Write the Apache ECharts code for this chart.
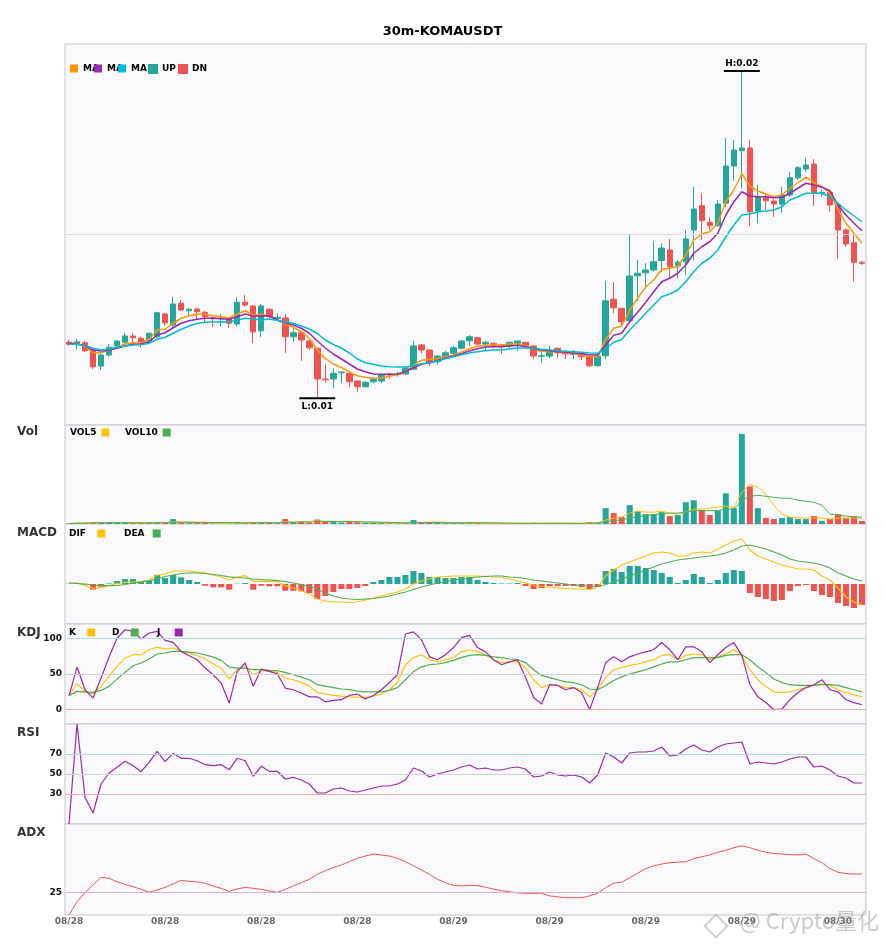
<!DOCTYPE html>
<html lang="en">
<head>
<meta charset="UTF-8">
<title>30m-KOMAUSDT</title>
<style>
  html, body { margin: 0; padding: 0; background: #fff; }
  #main { width: 885px; height: 950px; }
</style>
</head>
<body>
<div id="main"></div>
<script src="https://cdn.jsdelivr.net/npm/echarts@6/dist/echarts.min.js"></script>
<script>
// 30m candles, 08/28 00:00 -> 08/30 01:30
const times = [
  '08/28 00:00','08/28 00:30','08/28 01:00','08/28 01:30','08/28 02:00','08/28 02:30','08/28 03:00','08/28 03:30','08/28 04:00','08/28 04:30',
  '08/28 05:00','08/28 05:30','08/28 06:00','08/28 06:30','08/28 07:00','08/28 07:30','08/28 08:00','08/28 08:30','08/28 09:00','08/28 09:30',
  '08/28 10:00','08/28 10:30','08/28 11:00','08/28 11:30','08/28 12:00','08/28 12:30','08/28 13:00','08/28 13:30','08/28 14:00','08/28 14:30',
  '08/28 15:00','08/28 15:30','08/28 16:00','08/28 16:30','08/28 17:00','08/28 17:30','08/28 18:00','08/28 18:30','08/28 19:00','08/28 19:30',
  '08/28 20:00','08/28 20:30','08/28 21:00','08/28 21:30','08/28 22:00','08/28 22:30','08/28 23:00','08/28 23:30',
  '08/29 00:00','08/29 00:30','08/29 01:00','08/29 01:30','08/29 02:00','08/29 02:30','08/29 03:00','08/29 03:30','08/29 04:00','08/29 04:30',
  '08/29 05:00','08/29 05:30','08/29 06:00','08/29 06:30','08/29 07:00','08/29 07:30','08/29 08:00','08/29 08:30','08/29 09:00','08/29 09:30',
  '08/29 10:00','08/29 10:30','08/29 11:00','08/29 11:30','08/29 12:00','08/29 12:30','08/29 13:00','08/29 13:30','08/29 14:00','08/29 14:30',
  '08/29 15:00','08/29 15:30','08/29 16:00','08/29 16:30','08/29 17:00','08/29 17:30','08/29 18:00','08/29 18:30','08/29 19:00','08/29 19:30',
  '08/29 20:00','08/29 20:30','08/29 21:00','08/29 21:30','08/29 22:00','08/29 22:30','08/29 23:00','08/29 23:30',
  '08/30 00:00','08/30 00:30','08/30 01:00','08/30 01:30'
];

const opens = [
  0.01181,0.01175,0.01179,0.01150,0.01086,0.01130,0.01166,0.01181,0.01206,0.01197,
  0.01187,0.01203,0.01294,0.01250,0.01337,0.01307,0.01314,0.01301,0.01279,0.01275,
  0.01274,0.01254,0.01341,0.01326,0.01227,0.01313,0.01276,0.01278,0.01203,0.01219,
  0.01186,0.01157,0.01034,0.01034,0.01059,0.01057,0.01026,0.01003,0.01023,0.01026,
  0.01054,0.01052,0.01054,0.01073,0.01170,0.01150,0.01103,0.01121,0.01137,0.01157,
  0.01187,0.01199,0.01174,0.01177,0.01170,0.01166,0.01177,0.01181,0.01166,0.01125,
  0.01126,0.01157,0.01139,0.01132,0.01137,0.01123,0.01087,0.01127,0.01353,0.01317,
  0.01267,0.01447,0.01459,0.01470,0.01508,0.01550,0.01487,0.01503,0.01630,0.01727,
  0.01661,0.01647,0.01737,0.01886,0.01947,0.01958,0.01707,0.01759,0.01746,0.01734,
  0.01770,0.01839,0.01874,0.01894,0.01777,0.01781,0.01730,0.01630,0.01579,0.01501
];
const closes = [
  0.01173,0.01183,0.01147,0.01083,0.01130,0.01161,0.01186,0.01206,0.01199,0.01181,
  0.01217,0.01299,0.01259,0.01334,0.01310,0.01313,0.01303,0.01283,0.01275,0.01278,
  0.01257,0.01341,0.01330,0.01223,0.01326,0.01283,0.01281,0.01203,0.01219,0.01190,
  0.01159,0.01034,0.01031,0.01057,0.01062,0.01023,0.01003,0.01021,0.01033,0.01050,
  0.01050,0.01054,0.01077,0.01166,0.01150,0.01099,0.01126,0.01139,0.01159,0.01186,
  0.01203,0.01174,0.01181,0.01166,0.01163,0.01181,0.01186,0.01163,0.01126,0.01127,
  0.01150,0.01139,0.01134,0.01136,0.01123,0.01087,0.01126,0.01347,0.01319,0.01263,
  0.01446,0.01457,0.01470,0.01503,0.01558,0.01483,0.01501,0.01594,0.01714,0.01667,
  0.01647,0.01734,0.01886,0.01950,0.01958,0.01703,0.01763,0.01747,0.01734,0.01770,
  0.01839,0.01879,0.01890,0.01779,0.01781,0.01730,0.01630,0.01574,0.01501,0.01497
];
const lows = [
  0.01166,0.01153,0.01142,0.01073,0.01070,0.01123,0.01163,0.01174,0.01179,0.01159,
  0.01177,0.01197,0.01246,0.01243,0.01306,0.01283,0.01270,0.01263,0.01243,0.01243,
  0.01237,0.01243,0.01323,0.01177,0.01202,0.01277,0.01268,0.01138,0.01183,0.01107,
  0.01150,0.00957,0.01019,0.00997,0.01017,0.01001,0.00983,0.01001,0.01017,0.01017,
  0.01033,0.01043,0.01050,0.01070,0.01137,0.01086,0.01090,0.01117,0.01134,0.01153,
  0.01166,0.01163,0.01150,0.01157,0.01134,0.01157,0.01147,0.01161,0.01113,0.01099,
  0.01117,0.01117,0.01113,0.01113,0.01110,0.01083,0.01083,0.01113,0.01297,0.01250,
  0.01263,0.01346,0.01397,0.01463,0.01462,0.01438,0.01437,0.01450,0.01510,0.01590,
  0.01630,0.01643,0.01722,0.01826,0.01797,0.01646,0.01657,0.01710,0.01683,0.01699,
  0.01763,0.01830,0.01863,0.01727,0.01763,0.01703,0.01514,0.01563,0.01423,0.01490
];
const highs = [
  0.01190,0.01194,0.01187,0.01153,0.01137,0.01173,0.01190,0.01219,0.01217,0.01203,
  0.01219,0.01303,0.01299,0.01363,0.01350,0.01317,0.01317,0.01307,0.01283,0.01294,
  0.01281,0.01361,0.01370,0.01330,0.01334,0.01317,0.01296,0.01294,0.01243,0.01222,
  0.01190,0.01159,0.01094,0.01077,0.01063,0.01063,0.01028,0.01026,0.01041,0.01057,
  0.01059,0.01063,0.01083,0.01187,0.01174,0.01152,0.01130,0.01147,0.01166,0.01190,
  0.01210,0.01203,0.01186,0.01179,0.01174,0.01183,0.01187,0.01182,0.01170,0.01143,
  0.01166,0.01159,0.01150,0.01150,0.01139,0.01126,0.01128,0.01426,0.01422,0.01319,
  0.01610,0.01510,0.01497,0.01586,0.01577,0.01594,0.01510,0.01630,0.01803,0.01777,
  0.01681,0.01750,0.01997,0.01990,0.02266,0.01990,0.01810,0.01777,0.01753,0.01803,
  0.01863,0.01886,0.01919,0.01913,0.01793,0.01787,0.01734,0.01637,0.01617,0.01507
];

const ma5 = [
  0.01177,0.01177,0.01163,0.01139,0.01139,0.01150,0.01161,0.01174,0.01179,0.01179,
  0.01193,0.01230,0.01233,0.01257,0.01277,0.01287,0.01293,0.01293,0.01287,0.01283,
  0.01278,0.01294,0.01307,0.01290,0.01293,0.01286,0.01270,0.01254,0.01241,0.01223,
  0.01197,0.01150,0.01116,0.01094,0.01080,0.01062,0.01047,0.01041,0.01037,0.01038,
  0.01045,0.01051,0.01061,0.01089,0.01109,0.01113,0.01115,0.01123,0.01130,0.01142,
  0.01155,0.01165,0.01169,0.01170,0.01170,0.01174,0.01174,0.01167,0.01153,0.01145,
  0.01143,0.01142,0.01139,0.01135,0.01130,0.01123,0.01123,0.01192,0.01237,0.01246,
  0.01308,0.01358,0.01402,0.01430,0.01472,0.01477,0.01483,0.01530,0.01590,0.01614,
  0.01623,0.01657,0.01743,0.01790,0.01855,0.01806,0.01786,0.01774,0.01763,0.01770,
  0.01797,0.01819,0.01841,0.01819,0.01803,0.01777,0.01713,0.01657,0.01617,0.01577
];
const ma10 = [
  0.01177,0.01174,0.01166,0.01150,0.01146,0.01150,0.01157,0.01166,0.01173,0.01174,
  0.01183,0.01210,0.01219,0.01239,0.01257,0.01267,0.01273,0.01277,0.01277,0.01275,
  0.01273,0.01283,0.01294,0.01286,0.01286,0.01287,0.01270,0.01259,0.01250,0.01237,
  0.01217,0.01186,0.01158,0.01134,0.01114,0.01094,0.01074,0.01063,0.01054,0.01053,
  0.01053,0.01054,0.01063,0.01079,0.01093,0.01099,0.01107,0.01118,0.01126,0.01135,
  0.01146,0.01155,0.01162,0.01163,0.01163,0.01166,0.01169,0.01163,0.01155,0.01150,
  0.01147,0.01143,0.01141,0.01138,0.01135,0.01130,0.01130,0.01170,0.01209,0.01217,
  0.01263,0.01301,0.01341,0.01383,0.01423,0.01437,0.01457,0.01490,0.01537,0.01563,
  0.01583,0.01617,0.01690,0.01743,0.01783,0.01766,0.01763,0.01763,0.01759,0.01761,
  0.01777,0.01797,0.01817,0.01810,0.01801,0.01787,0.01730,0.01690,0.01657,0.01627
];
const ma20 = [
  0.01173,0.01173,0.01167,0.01157,0.01150,0.01154,0.01161,0.01166,0.01170,0.01171,
  0.01177,0.01193,0.01201,0.01217,0.01233,0.01246,0.01257,0.01261,0.01262,0.01263,
  0.01262,0.01270,0.01277,0.01274,0.01270,0.01274,0.01268,0.01262,0.01257,0.01246,
  0.01234,0.01216,0.01190,0.01172,0.01158,0.01138,0.01114,0.01099,0.01093,0.01086,
  0.01083,0.01082,0.01082,0.01086,0.01095,0.01099,0.01106,0.01115,0.01123,0.01131,
  0.01138,0.01143,0.01147,0.01150,0.01150,0.01154,0.01158,0.01158,0.01157,0.01153,
  0.01150,0.01147,0.01145,0.01143,0.01141,0.01138,0.01137,0.01155,0.01181,0.01192,
  0.01230,0.01263,0.01297,0.01330,0.01363,0.01374,0.01390,0.01423,0.01463,0.01497,
  0.01517,0.01550,0.01603,0.01650,0.01690,0.01694,0.01703,0.01706,0.01710,0.01723,
  0.01750,0.01763,0.01777,0.01777,0.01777,0.01763,0.01737,0.01710,0.01686,0.01663
];

// volume in millions
const volumes = [
  0.5,1.2,1,2,1.5,1.8,1,1.2,0.8,1,
  1.2,2,1.3,5,1.5,0.8,0.8,1,0.6,0.7,
  0.8,2,1,2,1.5,1,0.8,5,1.8,3,
  1.5,4.5,3,2.5,1.5,2,1.8,1.2,1,1,
  0.8,0.8,1,4,1.5,1.8,1,0.8,0.8,1.2,
  1.5,1,0.7,0.6,0.8,0.6,0.7,0.5,1.2,0.7,
  0.8,0.6,0.5,0.5,0.6,2,1.5,16,11,7,
  19,13,10,10,12,8,9,22,24,14,
  9,14,31,16,91,38,16,6,5,6,
  7,5,5,8,3,5,10,6,8,3
];
const vol5 = [
  0.5,0.8,0.9,1.2,1.3,1.5,1.5,1.5,1.3,1.1,
  1,1.2,1.3,2.1,2.2,2.1,1.9,1.8,1,0.8,
  0.8,1,1,1.3,1.5,1.7,1.5,2.1,2,2.3,
  2.6,3.2,2.8,2.8,2.6,2.7,2.2,1.8,1.5,1.4,
  1.2,1,0.9,1.5,1.6,1.8,1.9,1.8,1.2,1.1,
  1.1,1.1,1,1,0.9,0.7,0.7,0.6,0.8,0.7,
  0.8,0.8,0.8,0.7,0.6,0.9,1,4,6,7,
  11,13,12,12,13,11,10,12,15,15,
  16,17,18,17,32,40,37,30,19,10,
  7,6,6,6,6,5,6,6,6,6
];
const vol10 = [
  0.5,0.8,0.9,1.2,1.3,1.4,1.4,1.4,1.3,1.3,
  1.3,1.3,1.4,1.8,1.8,1.7,1.6,1.6,1.5,1.5,
  1.4,1.3,1.3,1.4,1.3,1.3,1.3,1.7,1.7,2,
  2,2.4,2.5,2.5,2.4,2.5,2.4,2.1,2,1.8,
  1.6,1.4,1.3,1.5,1.5,1.5,1.5,1.3,1.3,1.3,
  1.4,1.4,1.3,1.2,1,0.9,0.8,0.7,0.8,0.7,
  0.8,0.8,0.7,0.7,0.7,0.8,0.9,2.5,3.5,4,
  6,7.5,8.5,9.5,10.5,11,11,12,13.5,13.5,
  13.5,13.5,15,15,24,28,29,28,27,26,
  26,24,23,22,19,10,9,8,7,7
];

const dif = [
  1e-5,1e-5,-1.5e-5,-4.5e-5,-3.3e-5,-1.5e-5,0.5e-5,1.7e-5,2e-5,2.3e-5,
  4e-5,9e-5,9.7e-5,13e-5,13e-5,13e-5,12e-5,11e-5,9e-5,7e-5,
  4e-5,7e-5,8.3e-5,2.7e-5,2.7e-5,2.7e-5,2.7e-5,-1.7e-5,-4e-5,-6.7e-5,
  -10e-5,-15e-5,-17e-5,-18e-5,-18e-5,-18.5e-5,-18e-5,-16e-5,-14e-5,-12e-5,
  -10e-5,-8e-5,-5e-5,0,3e-5,5e-5,7e-5,7.5e-5,8e-5,8e-5,
  8e-5,8e-5,7.5e-5,7e-5,7e-5,5e-5,3e-5,1e-5,-1e-5,-2.5e-5,
  -3e-5,-4e-5,-4.5e-5,-5e-5,-5e-5,-5.5e-5,-3e-5,8e-5,14e-5,19e-5,
  22e-5,25e-5,28e-5,31e-5,32e-5,31e-5,28e-5,28e-5,31e-5,32e-5,
  31e-5,35e-5,39e-5,43e-5,45e-5,34e-5,28e-5,25e-5,22e-5,19e-5,
  17e-5,15e-5,15e-5,14e-5,8e-5,4e-5,-4e-5,-13e-5,-18e-5,-21e-5
];
const dea = [
  1e-5,0.5e-5,0,-1e-5,-1.7e-5,-1.7e-5,-1.5e-5,-0.5e-5,1e-5,2e-5,
  3.3e-5,5e-5,7.5e-5,9e-5,10.5e-5,11e-5,11e-5,10.5e-5,9.5e-5,8.5e-5,
  7.2e-5,6.5e-5,6e-5,5e-5,4.5e-5,4e-5,3.3e-5,2.5e-5,1e-5,-0.7e-5,
  -2.5e-5,-5e-5,-9e-5,-12e-5,-14e-5,-15e-5,-15.5e-5,-15e-5,-14.5e-5,-13.5e-5,
  -12e-5,-10e-5,-8e-5,-5.5e-5,-3e-5,-1e-5,1e-5,2.5e-5,4e-5,5e-5,
  6e-5,7e-5,7.5e-5,8e-5,8e-5,7e-5,6.5e-5,5.5e-5,4e-5,3e-5,
  2e-5,1e-5,0,-1e-5,-1.5e-5,-2e-5,-2.5e-5,-0.5e-5,2e-5,5e-5,
  8e-5,11e-5,14e-5,17e-5,20e-5,22e-5,24e-5,25e-5,26e-5,27e-5,
  28e-5,29e-5,31e-5,34e-5,38e-5,39e-5,37e-5,35e-5,32e-5,29e-5,
  25e-5,23e-5,22e-5,21e-5,19e-5,16e-5,11e-5,8e-5,5e-5,3e-5
];
const macdHist = [
  0.3e-5,0.5e-5,-0.5e-5,-5.7e-5,-2.7e-5,0.5e-5,3e-5,5e-5,5e-5,2.7e-5,
  3.3e-5,9e-5,6e-5,9e-5,6.7e-5,4e-5,2e-5,-1.7e-5,-3.3e-5,-3.3e-5,
  -5.7e-5,0.3e-5,1e-5,-5.7e-5,-1.7e-5,-2.3e-5,-2.3e-5,-6.7e-5,-6.7e-5,-7.3e-5,
  -9e-5,-15e-5,-12e-5,-8e-5,-5e-5,-5e-5,-4e-5,-2e-5,2e-5,4e-5,
  7e-5,7e-5,9e-5,13e-5,11e-5,7e-5,7e-5,6e-5,6e-5,7e-5,
  7e-5,4e-5,2e-5,1e-5,0.5e-5,0.5e-5,1e-5,-2e-5,-5e-5,-4e-5,
  -2e-5,-2e-5,-2e-5,-2e-5,-3e-5,-5e-5,-3e-5,13e-5,15e-5,12e-5,
  18e-5,18e-5,16e-5,14e-5,11e-5,7e-5,1e-5,4e-5,10e-5,7e-5,
  1e-5,4e-5,11e-5,14e-5,13e-5,-9e-5,-13e-5,-15e-5,-17e-5,-16e-5,
  -7e-5,-2e-5,-1e-5,-7e-5,-11e-5,-13e-5,-19e-5,-22e-5,-24e-5,-21e-5
];

const kLine = [
  19.6,36.4,25.7,22.4,32.7,46.7,60.7,72.3,77,77,
  84,87.7,85,86.4,81.7,79.4,75.6,71,64.4,58.3,
  42.9,56,61.6,49,55,53.7,52.3,44.4,42,38.3,
  33,24,22,20,19,18,17.5,17,19,22,
  28,38,63,73,77,70,67,70,73,81,
  84,81,77,70,66,67,67,59,42,31,
  35,34,31,31,28,18,28,45,56,59,
  62,64,67,70,76,77,70,76,78,77,
  70,74,78,84,76,56,42,32,25,24,
  25,28,31,34,36,34,28,24,21,18
];
const dLine = [
  19.6,25.7,24.7,24.3,27,32.7,42.9,52.3,61.6,65.4,
  71,78,79.4,81.7,81.7,80.7,79.4,77,73.7,69.1,
  59.7,58.3,58.3,56,56,55,54.6,52.3,49,45.7,
  42,35,33,31,29,28,26,25,25,25,
  27,31,42,53,60,63,64,66,69,73,
  76,77,76,74,73,71,70,66,56,48,
  45,42,39,38,35,29,28,34,41,46,
  50,53,56,60,64,67,67,70,73,73,
  73,73,76,77,77,70,60,52,43,38,
  35,34,34,34,35,35,34,31,28,25
];
const jLine = [
  19.6,59.7,28,16.3,44.4,73.7,100.3,112,109.7,99,
  107.4,109.7,97,94.3,81.7,75.6,70,58.3,49,37.3,
  9.3,53.7,65.4,32.7,57,53.7,50.4,30.3,28,23.3,
  18,18,11,13,14,20,22,15,20,28,
  38,49,106,109,98,74,70,77,87,101,
  104,87,81,70,63,67,70,45,17,8,
  35,34,28,31,24,0,31,66,74,67,
  74,78,81,84,94,84,70,88,88,81,
  66,77,87,94,76,35,18,10,0,1,
  14,24,31,35,42,28,25,14,10,7
];
const rsi = [
  0,100,26.7,11,40,51,56.7,62.7,58.3,52.3,
  61.7,72.7,62.3,70.7,65.7,65.7,63.3,59.3,58.3,59.3,
  54.3,65.7,63.3,47.7,57.7,52.7,52.7,45,46.7,44,
  40,31,31,35,36,33,32,34,36,38,
  38,40,44,56,53,47,50,52,54,57,
  59,55,56,54,54,56,57,55,47,48,
  52,49,48,49,47,41,49,71,67,61,
  71,72,72,73,77,68,69,75,79,74,
  72,77,80,81,82,60,62,61,60,62,
  65,67,67,57,58,54,48,46,41,41
];
const adx = [
  0,14.7,24.5,33,41.4,40.3,36.6,33.7,31.1,28.2,
  24.9,27.5,30.4,34.1,38.1,37,36.3,34.8,31.9,29.3,
  26,28.6,30.4,29.3,28.2,26.4,24.9,28.2,31.9,35.5,
  39.2,44.7,48.7,52,54.9,58.6,62.3,64.8,67,65.9,
  64.8,62.3,58.6,54.2,49.5,44.7,39.2,35.5,32.5,31.9,
  32.6,32.3,30.5,28.5,26.7,25.5,24.3,23.8,23.8,23.8,
  21,20,19,19,19,21,24,30,35,36,
  41,46,51,54,56,57.5,58,58.6,62,64,
  66,69,71,74,76,74,71,69,67.5,67,
  66.5,66,67,62,57.5,51,47,45.5,45,45
];

const FONT = 'DejaVu Sans';
const UP = '#26a69a', DN = '#ef5350';

const upData = opens.map((o, i) => closes[i] > o ? [o, closes[i], lows[i], highs[i]] : '-');
const dnData = opens.map((o, i) => closes[i] > o ? '-' : [o, closes[i], lows[i], highs[i]]);

let hiIdx = 0, loIdx = 0;
highs.forEach((h, i) => { if (h > highs[hiIdx]) hiIdx = i; });
lows.forEach((l, i) => { if (l < lows[loIdx]) loIdx = i; });

const priceMin = 0.0085, priceMax = 0.02374;

const chart = echarts.init(document.getElementById('main'));

const grids = [
  { top: 44, height: 381 },
  { top: 425, height: 99 },
  { top: 524, height: 100 },
  { top: 624, height: 100 },
  { top: 724, height: 100 },
  { top: 824, height: 91 }
].map(g => Object.assign({
  left: 65, right: 19, show: true,
  backgroundColor: '#f9f9fb', borderColor: '#c4c4cc', borderWidth: 1
}, g));

const xAxes = grids.map((g, k) => ({
  type: 'category', gridIndex: k, data: times, boundaryGap: true,
  axisLine: { show: false }, axisTick: { show: false }, splitLine: { show: false },
  axisLabel: {
    show: k === 5, interval: 11, margin: 2,
    color: '#666', fontFamily: FONT, fontSize: 9, fontWeight: 'bold',
    formatter: v => v.slice(0, 5)
  }
}));

function labelAxis(k, min, max, interval, shown) {
  return {
    type: 'value', gridIndex: k, min: min, max: max, interval: interval,
    axisLine: { show: false }, axisTick: { show: false }, splitLine: { show: false },
    axisLabel: {
      margin: 3, color: '#111', fontFamily: FONT, fontSize: 9, fontWeight: 'bold',
      formatter: v => shown.indexOf(v) >= 0 ? String(v) : ''
    }
  };
}

const yAxes = [
  { type: 'value', gridIndex: 0, min: priceMin, max: priceMax, show: false },
  { type: 'value', gridIndex: 1, min: 0, max: 100, show: false },
  { type: 'value', gridIndex: 2, min: -40e-5, max: 60e-5, show: false },
  labelAxis(3, -20, 120, 10, [0, 50, 100]),
  labelAxis(4, 0, 100, 10, [30, 50, 70]),
  labelAxis(5, 0, 100, 25, [25])
];

function line(name, data, color, k, width) {
  return {
    name: name, type: 'line', data: data, xAxisIndex: k, yAxisIndex: k,
    showSymbol: false, symbol: 'none',
    itemStyle: { color: color },
    lineStyle: { color: color, width: width || 1.2 }
  };
}

function hLines(items) {
  return {
    silent: true, symbol: 'none', precision: 6, label: { show: false },
    lineStyle: { type: 'solid', width: 1 },
    data: items.map(it => ({ yAxis: it[0], lineStyle: { color: it[1], type: 'solid', width: 1 } }))
  };
}

function legendItem(name, left, top, extra) {
  return Object.assign({
    data: [name], left: left, top: top, padding: 0,
    itemWidth: 8, itemHeight: 8, icon: 'rect', selectedMode: false,
    textStyle: { fontFamily: FONT, fontSize: 9, fontWeight: 'bold', color: '#000' }
  }, extra || {});
}

const panelTitle = (text, top) => ({
  text: text, left: 17, top: top, padding: 0,
  textStyle: { fontFamily: FONT, fontSize: 12, fontWeight: 'bold', color: '#333' }
});

const ma5Series = line('MA5', ma5, '#ff9800', 0, 1.5);
ma5Series.markLine = hLines([[(priceMin + priceMax) / 2, '#dcdce2']]);

const kSeries = line('K', kLine, '#ffc107', 3);
kSeries.markLine = hLines([[100, '#a8dcd4'], [50, '#cfcfd4'], [0, '#f2a7a7']]);
const rsiSeries = line('RSI', rsi, '#9c27b0', 4);
rsiSeries.markLine = hLines([[70, '#a8dcd4'], [50, '#cfcfd4'], [30, '#f2a7a7']]);
const adxSeries = line('ADX', adx, '#ef5350', 5, 1);
adxSeries.markLine = hLines([[25, '#dcaee4']]);

const option = {
  animation: false,
  backgroundColor: '#ffffff',
  textStyle: { fontFamily: FONT },
  title: [
    { text: '30m-KOMAUSDT', left: 'center', top: 25, padding: 0,
      textStyle: { fontFamily: FONT, fontSize: 13, fontWeight: 'bold', color: '#000' } },
    panelTitle('Vol', 426),
    panelTitle('MACD', 527),
    panelTitle('KDJ', 627),
    panelTitle('RSI', 727),
    panelTitle('ADX', 827)
  ],
  legend: [
    legendItem('MA5', 70, 64, { formatter: 'MA' }),
    legendItem('MA10', 94, 64, { formatter: 'MA' }),
    legendItem('MA20', 118, 64, { formatter: 'MA' }),
    legendItem('UP', 148, 64),
    legendItem('DN', 178, 64),
    legendItem('VOL5', 70, 428, { align: 'right' }),
    legendItem('VOL10', 125, 428, { align: 'right' }),
    legendItem('DIF', 69, 529, { align: 'right', formatter: 'DIF  ' }),
    legendItem('DEA', 124, 529, { align: 'right', formatter: 'DEA ' }),
    legendItem('K', 69, 628, { align: 'right', formatter: 'K  ' }),
    legendItem('D', 112, 628, { align: 'right', formatter: 'D  ' }),
    legendItem('J', 157, 628, { align: 'right', formatter: 'J   ' })
  ],
  grid: grids,
  xAxis: xAxes,
  yAxis: yAxes,
  series: [
    {
      name: 'UP', type: 'candlestick', data: upData, xAxisIndex: 0, yAxisIndex: 0, barWidth: 6,
      itemStyle: { color: UP, color0: UP, borderColor: UP, borderColor0: UP, borderWidth: 1 },
      markPoint: {
        symbol: 'rect', symbolSize: [36, 2], silent: true,
        itemStyle: { color: '#000' },
        label: { show: true, color: '#000', fontFamily: FONT, fontSize: 9, fontWeight: 'bold' },
        data: [
          { coord: [times[hiIdx], highs[hiIdx]], value: highs[hiIdx],
            label: { position: 'top', distance: 2, formatter: 'H:' + highs[hiIdx].toFixed(2) } },
          { coord: [times[loIdx], lows[loIdx]], value: lows[loIdx],
            label: { position: 'bottom', distance: 3, formatter: 'L:' + lows[loIdx].toFixed(2) } }
        ]
      }
    },
    {
      name: 'DN', type: 'candlestick', data: dnData, xAxisIndex: 0, yAxisIndex: 0, barWidth: 6,
      itemStyle: { color: DN, color0: DN, borderColor: DN, borderColor0: DN, borderWidth: 1 }
    },
    ma5Series,
    line('MA10', ma10, '#9c27b0', 0, 1.5),
    line('MA20', ma20, '#00bcd4', 0, 1.5),
    {
      name: 'Volume', type: 'bar', xAxisIndex: 1, yAxisIndex: 1, barWidth: 6,
      data: volumes.map((v, i) => ({ value: v, itemStyle: { color: closes[i] > opens[i] ? UP : DN } }))
    },
    line('VOL5', vol5, '#ffc107', 1, 1),
    line('VOL10', vol10, '#4caf50', 1, 1),
    {
      name: 'MACD', type: 'bar', xAxisIndex: 2, yAxisIndex: 2, barWidth: 6,
      data: macdHist.map(v => ({ value: v, itemStyle: { color: v >= 0 ? UP : DN } }))
    },
    line('DIF', dif, '#ffc107', 2),
    line('DEA', dea, '#4caf50', 2),
    kSeries,
    line('D', dLine, '#4caf50', 3),
    line('J', jLine, '#9c27b0', 3),
    rsiSeries,
    adxSeries
  ],
  graphic: [
    { type: 'rect', x: 716, y: 926, rotation: Math.PI / 4, z: 100,
      shape: { x: -8, y: -8, width: 16, height: 16 },
      style: { fill: 'none', stroke: 'rgba(150,150,150,0.45)', lineWidth: 2 } },
    { type: 'text', left: 740, top: 910, z: 100,
      style: { text: '@ Crypto量化', fontSize: 22, fontFamily: 'Noto Sans CJK SC',
               fill: 'rgba(150,150,150,0.5)' } }
  ]
};

chart.setOption(option);
window.addEventListener('resize', () => chart.resize());
</script>
</body>
</html>
